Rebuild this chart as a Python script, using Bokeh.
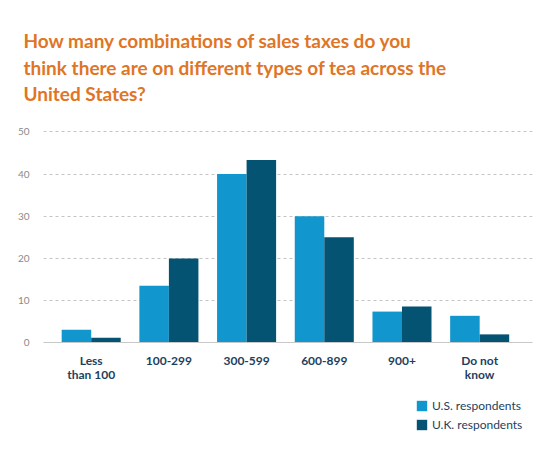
from bokeh.plotting import figure
from bokeh.models import Range1d, FixedTicker, Legend, LegendItem, ColumnDataSource
from bokeh.transform import dodge
from bokeh.embed import file_html
from bokeh.resources import INLINE

# Survey answers (percent of respondents)
categories = ["Less\nthan 100", "100-299", "300-599", "600-899", "900+", "Do not\nknow"]
us_values = [3.1, 13.5, 40, 30, 7.4, 6.4]
uk_values = [1.2, 20, 43.3, 25, 8.6, 2.0]
y_ticks = [0, 10, 20, 30, 40, 50]

US_COLOR = "#1196cd"
UK_COLOR = "#045372"
NAVY = "#1d3f5e"

idx = list(range(len(categories)))
src = ColumnDataSource(data=dict(x=idx, us=us_values, uk=uk_values))

# frame reaches below zero so the legend can sit under the axis labels
p = figure(frame_width=489, frame_height=315, output_backend="svg", toolbar_location=None,
           x_range=Range1d(-0.614, 5.68), y_range=Range1d(-23.15, 51.5),
           min_border_left=43, min_border_right=15, min_border_top=125, min_border_bottom=0)

p.title.text = "How many combinations of sales taxes do you\nthink there are on different types of tea across the\nUnited States?"
p.title.text_color = "#e07526"
p.title.text_font = "Lato"
p.title.text_font_size = "19px"
p.title.text_font_style = "bold"
p.title.text_line_height = 1.15
p.title.offset = -20
p.title.standoff = 41

us_r = p.vbar(x=dodge("x", -0.19), top="us", width=0.38, source=src, fill_color=US_COLOR, line_color=None)
uk_r = p.vbar(x=dodge("x", 0.19), top="uk", width=0.38, source=src, fill_color=UK_COLOR, line_color=None)

# axes
p.xaxis.fixed_location = 0
p.xaxis.ticker = FixedTicker(ticks=idx)
p.xaxis.major_label_overrides = {i: c for i, c in zip(idx, categories)}
p.xaxis.major_label_text_color = NAVY
p.xaxis.major_label_text_font = "Lato"
p.xaxis.major_label_text_font_style = "bold"
p.xaxis.major_label_text_font_size = "12px"
p.xaxis.major_label_text_line_height = 0.95
p.xaxis.major_label_standoff = 4
p.xaxis.axis_line_color = "#c8c8c8"
p.xaxis.major_tick_line_color = None
p.xaxis.minor_tick_line_color = None

p.yaxis.ticker = FixedTicker(ticks=y_ticks)
p.yaxis.axis_line_color = None
p.yaxis.major_tick_line_color = None
p.yaxis.minor_tick_line_color = None
p.yaxis.major_label_text_color = "#8a8a8a"
p.yaxis.major_label_text_font = "Lato"
p.yaxis.major_label_text_font_size = "10px"
p.yaxis.major_label_standoff = 8

p.xgrid.grid_line_color = None
p.ygrid.grid_line_color = "#c4c4c4"
p.ygrid.grid_line_dash = "3 3"
p.ygrid.grid_line_width = 1
p.outline_line_color = None

legend = Legend(items=[LegendItem(label="U.S. respondents", renderers=[us_r]),
                       LegendItem(label="U.K. respondents", renderers=[uk_r])],
                location=(372, 8), orientation="vertical")
legend.glyph_width = 13
legend.glyph_height = 13
legend.label_text_font = "Lato"
legend.label_text_font_size = "12px"
legend.label_text_color = NAVY
legend.label_standoff = 4
legend.spacing = 4
legend.padding = 0
legend.margin = 0
legend.border_line_color = None
legend.background_fill_alpha = 0
p.add_layout(legend)

open("out.html", "w").write(file_html(p, INLINE))
